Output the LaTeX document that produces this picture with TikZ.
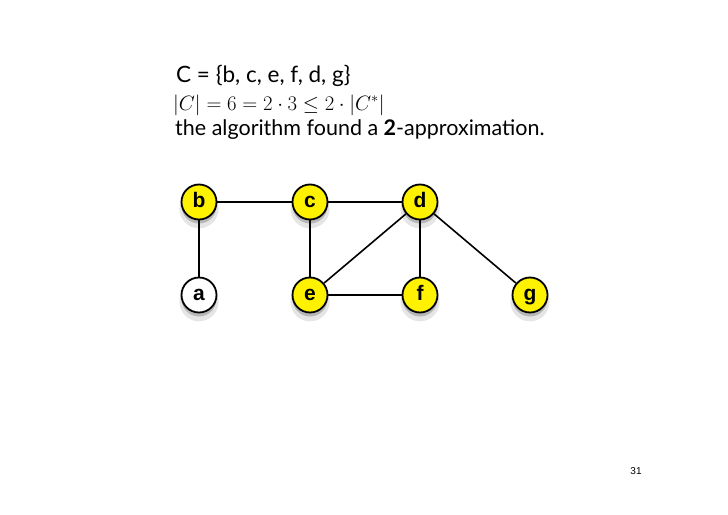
\documentclass[tikz,border=0pt]{standalone}
\usepackage{fontspec}
\setmainfont{Lato}
\newfontfamily\nodefont{Liberation Sans}
\usepackage{amsmath}
\usepackage{amssymb}
\usetikzlibrary{shadows}

\begin{document}
\begin{tikzpicture}[x=1pt,y=-1pt,
    vertex/.style={circle,draw=black,line width=1.8pt,minimum size=35pt,inner sep=0pt,
      fill=yellow,font=\nodefont\bfseries\fontsize{21}{21}\selectfont,
      text height=11pt,text depth=0pt,
      drop shadow={shadow xshift=0pt,shadow yshift=-6pt,shadow scale=1.12,opacity=0.1,fill=black},
      drop shadow={shadow xshift=0pt,shadow yshift=-4pt,opacity=0.2,fill=black}},
    outvertex/.style={vertex,fill=white},
    edge/.style={line width=1.6pt}]
        % Frame
        \useasboundingbox (0,0) rectangle (728,514);

        % Text
        \node[anchor=base west,inner sep=0pt,font=\fontsize{22.5}{22.5}\selectfont] (cover) at (176,82) {C = \{b, c, e, f, d, g\}};
        \node[anchor=base west,inner sep=0pt,font=\fontsize{21}{21}\selectfont] (bound) at (173,110) {$|C| = 6 = 2 \cdot 3 \leq 2 \cdot |C^{*}|$};
        \node[anchor=base west,inner sep=0pt,font=\fontsize{21.5}{21.5}\selectfont] (claim) at (175,135) {the algorithm found a \textbf{2}-approximation.};

        % Vertices
        \node[vertex] (b) at (199,202) {b};
        \node[vertex] (c) at (310,202) {c};
        \node[vertex] (d) at (420,202) {d};
        \node[outvertex] (a) at (199,295) {a};
        \node[vertex] (e) at (310,295) {e};
        \node[vertex] (f) at (420,295) {f};
        \node[vertex] (g) at (530,295) {g};

        % Edges
        \draw[edge] (b) -- (c);
        \draw[edge] (c) -- (d);
        \draw[edge] (b) -- (a);
        \draw[edge] (c) -- (e);
        \draw[edge] (d) -- (e);
        \draw[edge] (d) -- (f);
        \draw[edge] (d) -- (g);
        \draw[edge] (e) -- (f);

        % Page number
        \node[font=\nodefont\fontsize{10}{10}\selectfont] (page) at (636,471) {31};
    \end{tikzpicture}
\end{document}
